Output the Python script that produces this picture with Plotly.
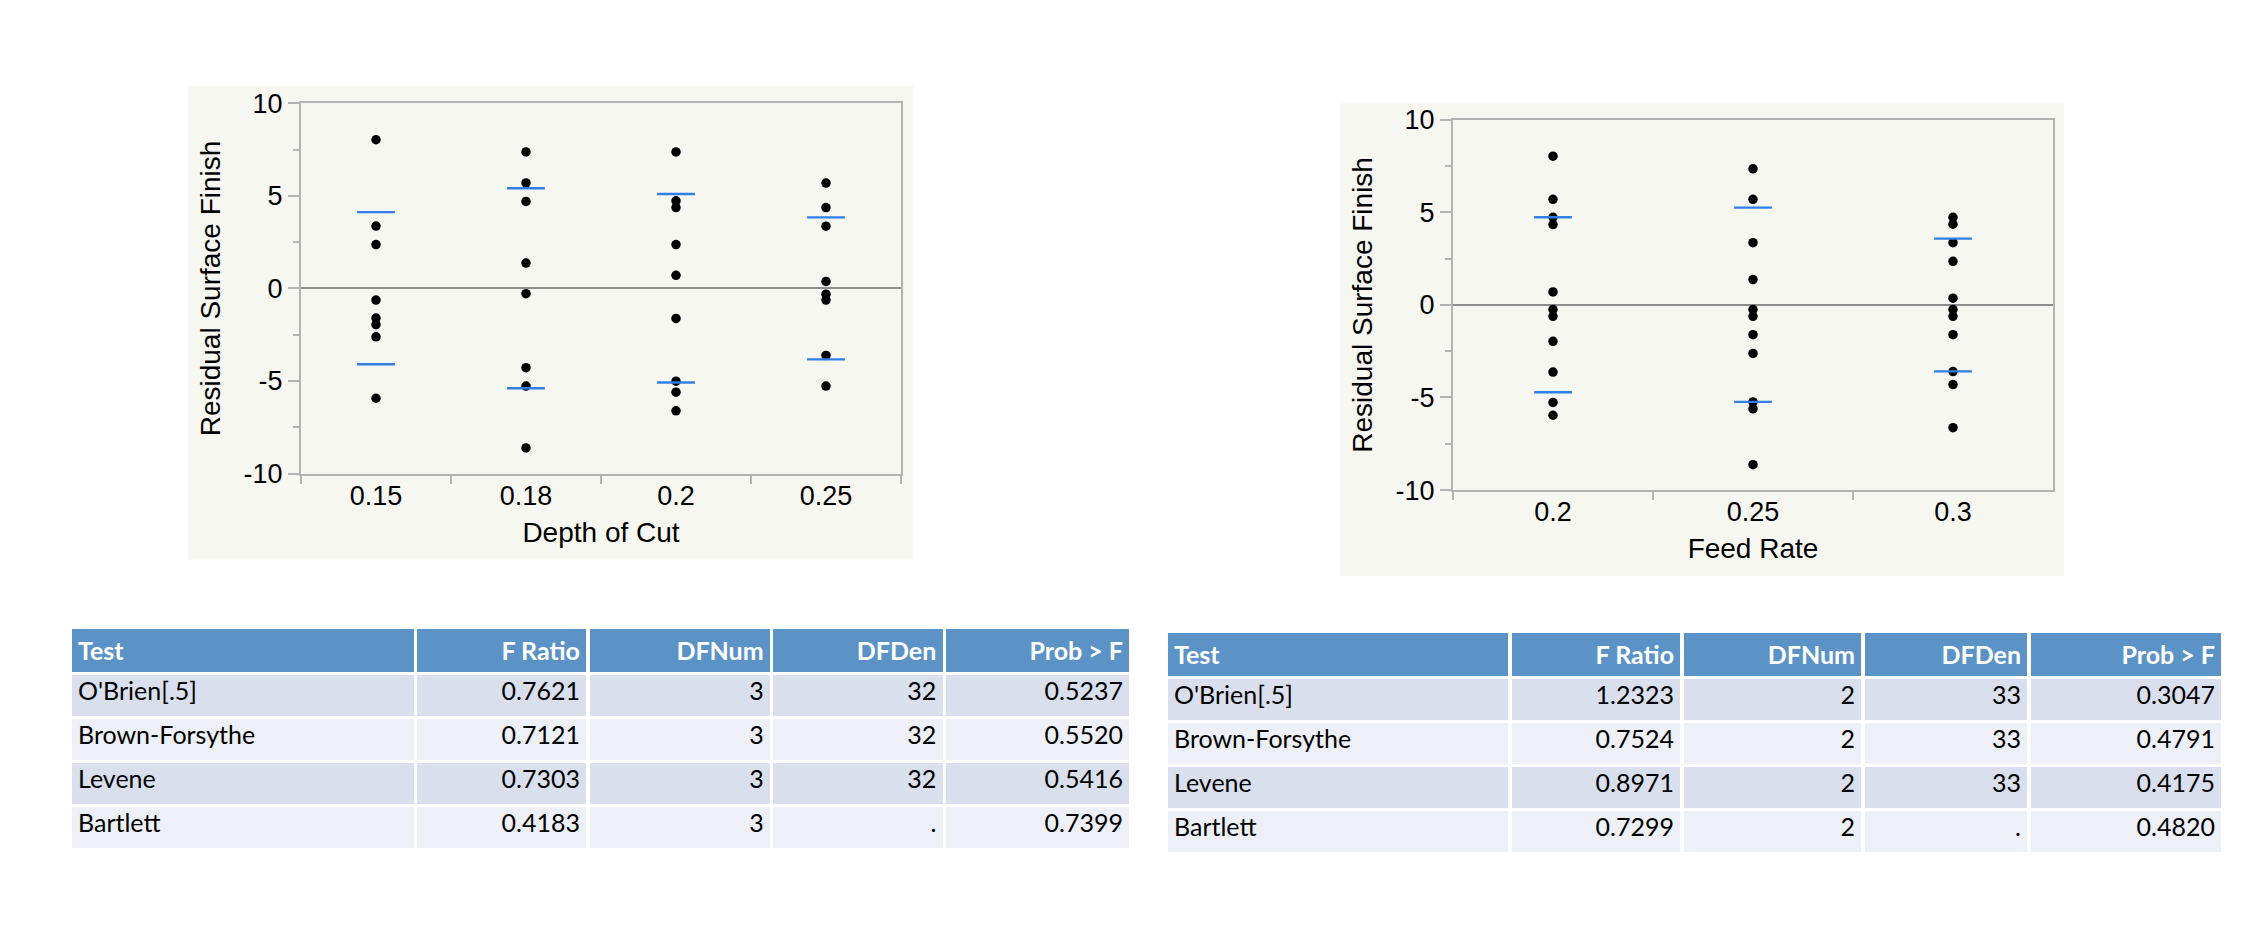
import plotly.graph_objects as go

# page is 2264x926; the html body adds an 8px margin, so the figure is inset
PAGE_W, PAGE_H = 2264, 926
BODY = 8
W, H = PAGE_W - 2 * BODY, PAGE_H - 2 * BODY

# ---------------- data: left chart (Depth of Cut) ----------------
depth_cats = ["0.15", "0.18", "0.2", "0.25"]
depth_015 = [8.03, 3.37, 2.37, -0.63, -1.60, -1.95, -2.61, -5.93]
depth_018 = [7.37, 5.70, 4.70, 1.37, -0.28, -4.28, -5.27, -8.61]
depth_020 = [7.37, 4.73, 4.37, 2.37, 0.71, -1.62, -5.01, -5.60, -6.61]
depth_025 = [5.69, 4.37, 3.36, 0.38, -0.31, -0.63, -3.62, -5.27]
depth_upper = [4.12, 5.41, 5.10, 3.84]
depth_lower = [-4.09, -5.39, -5.08, -3.83]

# ---------------- data: right chart (Feed Rate) ----------------
feed_cats = ["0.2", "0.25", "0.3"]
feed_020 = [8.03, 5.70, 4.73, 4.34, 0.70, -0.25, -0.62, -1.97, -3.63, -5.27, -5.96]
feed_025 = [7.35, 5.70, 3.36, 1.37, -0.25, -0.62, -1.61, -2.62, -5.24, -5.61, -8.63]
feed_030 = [4.73, 4.36, 3.36, 2.35, 0.36, -0.25, -0.62, -1.61, -3.60, -4.30, -6.63]
feed_upper = [4.73, 5.25, 3.58]
feed_lower = [-4.72, -5.24, -3.59]

y_ticks = [-10, -5, 0, 5, 10]
y_tick_labels = ["-10", "-5", "0", "5", "10"]
y_title = "Residual Surface Finish"

# ---------------- data: tables ----------------
tbl_header = ["Test", "F Ratio", "DFNum", "DFDen", "Prob > F"]
tbl_tests = ["O'Brien[.5]", "Brown-Forsythe", "Levene", "Bartlett"]
left_fratio = ["0.7621", "0.7121", "0.7303", "0.4183"]
left_dfnum = ["3", "3", "3", "3"]
left_dfden = ["32", "32", "32", "."]
left_prob = ["0.5237", "0.5520", "0.5416", "0.7399"]
right_fratio = ["1.2323", "0.7524", "0.8971", "0.7299"]
right_dfnum = ["2", "2", "2", "2"]
right_dfden = ["33", "33", "33", "."]
right_prob = ["0.3047", "0.4791", "0.4175", "0.4820"]

# ---------------- styling ----------------
DOT = "black"
DASH = "#2f7fe6"
FRAME = "#b3b3b3"
ZERO = "#8e8e8e"
PANEL = "#f7f7f2"
AX_FONT = "Liberation Sans, Arial, sans-serif"
TBL_FONT = "Lato, Liberation Sans, sans-serif"

fig = go.Figure()

def add_strip(cats, groups, upper, lower, xa, ya):
    xs, ys = [], []
    for c, g in zip(cats, groups):
        xs += [c] * len(g)
        ys += g
    fig.add_trace(go.Scatter(x=xs, y=ys, mode="markers", xaxis=xa, yaxis=ya,
                             marker=dict(color=DOT, size=9.5), showlegend=False,
                             hoverinfo="x+y"))
    fig.add_trace(go.Scatter(x=cats + cats, y=upper + lower, mode="markers",
                             xaxis=xa, yaxis=ya, showlegend=False,
                             marker=dict(symbol="line-ew", size=27,
                                         line=dict(color=DASH, width=2.4))))

add_strip(depth_cats, [depth_015, depth_018, depth_020, depth_025],
          depth_upper, depth_lower, "x", "y")
add_strip(feed_cats, [feed_020, feed_025, feed_030],
          feed_upper, feed_lower, "x2", "y2")

# page-pixel helpers
def fx(a):
    return (a - BODY) / W

def fy(t):
    return 1 - (t - BODY) / H

def px_x(a, b):
    return [fx(a), fx(b)]

def px_y(top, bottom):
    return [fy(bottom), fy(top)]

def xaxis(domain, anchor, title, n):
    return dict(domain=domain, anchor=anchor, type="category",
                range=[-0.5, n - 0.5], tickson="boundaries",
                ticks="outside", ticklen=8, tickwidth=1.5, tickcolor=FRAME,
                ticklabelstandoff=-3,
                showline=True, mirror=True, linecolor=FRAME, linewidth=2,
                showgrid=False, zeroline=False,
                tickfont=dict(family=AX_FONT, size=27, color="black"),
                title=dict(text=title, standoff=12,
                           font=dict(family=AX_FONT, size=28, color="black")))

def yaxis(domain, anchor):
    return dict(domain=domain, anchor=anchor, range=[-10, 10],
                tickvals=y_ticks, ticktext=y_tick_labels,
                ticks="outside", ticklen=11, tickwidth=1.5, tickcolor=FRAME,
                minor=dict(ticks="outside", ticklen=6, dtick=2.5, tick0=0,
                           tickcolor=FRAME, tickwidth=1.5, showgrid=False),
                showline=True, mirror=True, linecolor=FRAME, linewidth=2,
                showgrid=False, zeroline=True, zerolinecolor=ZERO,
                zerolinewidth=2,
                tickfont=dict(family=AX_FONT, size=27, color="black"),
                title=dict(text=y_title, standoff=15,
                           font=dict(family=AX_FONT, size=28, color="black")))

# ---------------- tables ----------------
row_fill = ["#d9dfec", "#edf0f6", "#d9dfec", "#edf0f6"]
aligns = ["left", "right", "right", "right", "right"]

def add_table(xdom, top, cols, widths):
    fig.add_trace(go.Table(
        domain=dict(x=xdom, y=[0, fy(top)]),
        columnwidth=widths,
        header=dict(values=["<b>%s</b>" % h for h in tbl_header],
                    fill_color="#5b93c6", align=aligns, height=45,
                    line=dict(color="white", width=3.5),
                    font=dict(family=TBL_FONT, size=25, color="white")),
        cells=dict(values=cols, fill_color=[row_fill] * 5, align=aligns,
                   height=44, line=dict(color="white", width=3.5),
                   font=dict(family=TBL_FONT, size=25, color="black"))))

add_table(px_x(70, 1131), 633,
          [tbl_tests, left_fratio, left_dfnum, left_dfden, left_prob],
          [344, 172, 183, 172, 186])
add_table(px_x(1166, 2223), 637,
          [tbl_tests, right_fratio, right_dfnum, right_dfden, right_prob],
          [344, 172, 181, 166, 194])

fig.update_layout(
    width=W, height=H, margin=dict(l=0, r=0, t=0, b=0),
    paper_bgcolor="white", plot_bgcolor="white",
    xaxis=xaxis(px_x(301, 901), "y", "Depth of Cut", len(depth_cats)),
    yaxis=yaxis(px_y(91, 474), "x"),
    xaxis2=xaxis(px_x(1453, 2053), "y2", "Feed Rate", len(feed_cats)),
    yaxis2=yaxis(px_y(108, 491), "x2"),
    shapes=[
        dict(type="rect", xref="paper", yref="paper", layer="below",
             x0=fx(188), x1=fx(913), y0=fy(563), y1=fy(73),
             fillcolor=PANEL, line=dict(width=0)),
        dict(type="rect", xref="paper", yref="paper", layer="below",
             x0=fx(1340), x1=fx(2064), y0=fy(580), y1=fy(91),
             fillcolor=PANEL, line=dict(width=0)),
    ],
)

fig.write_html("out.html")
